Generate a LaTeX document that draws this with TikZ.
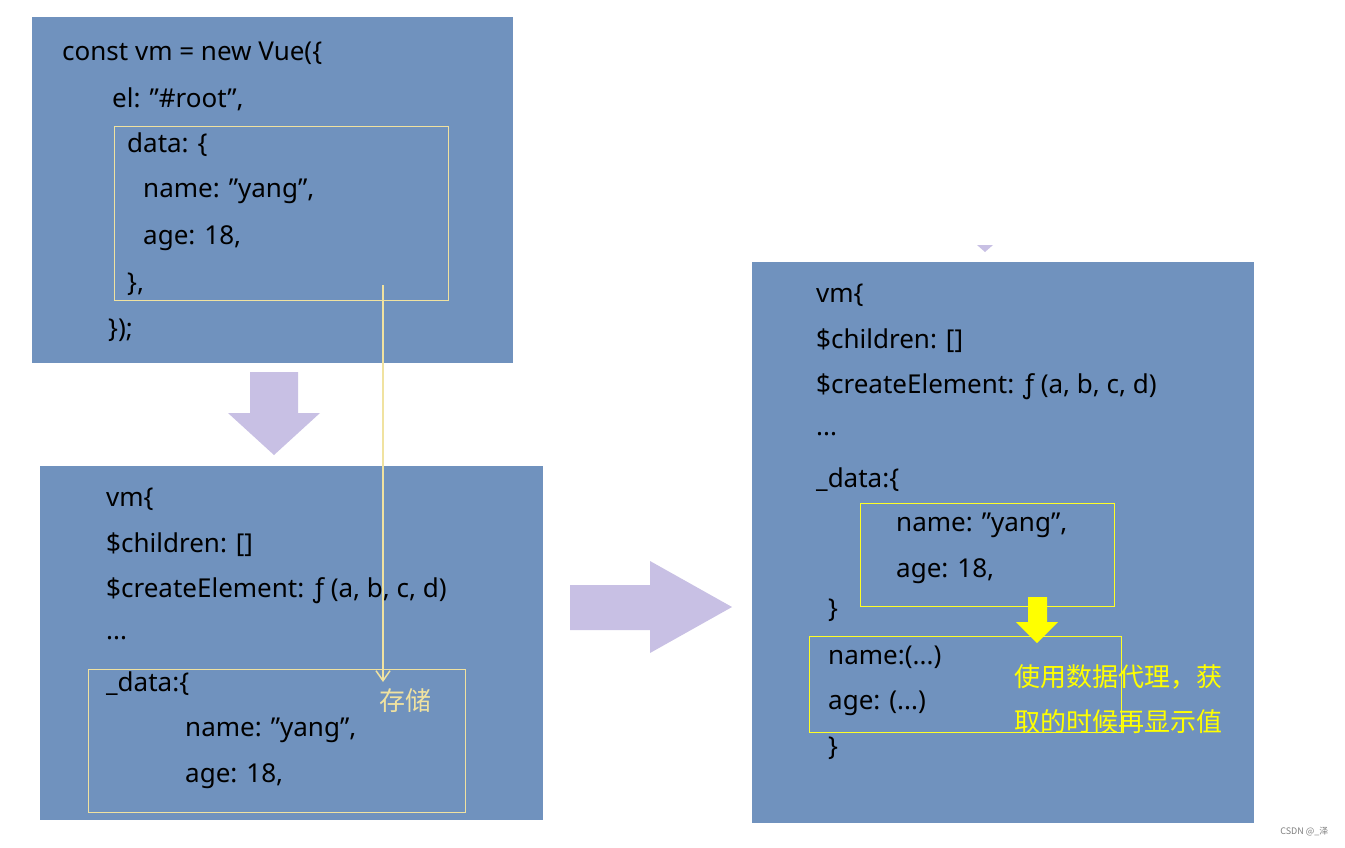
\documentclass[tikz,border=0pt]{standalone}
\usepackage{fontspec}
\setmainfont{Noto Sans}
\newfontfamily\cjk{Noto Sans CJK SC}
\usetikzlibrary{arrows.meta,positioning}
\definecolor{vueblue}{RGB}{112,146,190}
\definecolor{paleyellow}{RGB}{240,226,160}
\definecolor{brightyellow}{RGB}{255,255,0}
\definecolor{lavender}{RGB}{200,192,228}
\begin{document}
\begin{tikzpicture}[
    x=1pt, y=-1pt,
    code/.style={anchor=west, inner sep=0pt, font=\fontsize{26}{30}\selectfont},
    panel/.style={fill=vueblue, draw=none},
    frame/.style={draw=paleyellow, line width=1pt},
    hotframe/.style={draw=brightyellow!85!white, line width=1pt}
]
\useasboundingbox[fill=white] (0,0) rectangle (1345,847);

% Panels
\fill[panel] (32,17) rectangle (513,363);
\fill[panel] (40,466) rectangle (543,820);
\fill[panel] (752,262) rectangle (1254,823);

% Source code
\node[code] (l1) at (62,53) {const vm = new Vue(\{};
\node[code] (l2) at (112,99) {el: "\#root",};
\node[code] (l3) at (127,145) {data: \{};
\node[code] (l4) at (143,191) {name: "yang",};
\node[code] (l5) at (143,238) {age: 18,};
\node[code] (l6) at (127,284) {\},};
\node[code] (l7) at (108,330) {\});};
\draw[frame] (114,126) rectangle (448,300);

% vm instance
\node[code] (m1) at (106,499) {vm\{};
\node[code] (m2) at (106,545) {\$children: []};
\node[code] (m3) at (106,591) {\$createElement: ƒ (a, b, c, d)};
\node[code] (m4) at (106,638) {...};
\node[code] (m5) at (106,684) {\_data:\{};
\node[code] (m6) at (185,730) {name: "yang",};
\node[code] (m7) at (185,776) {age: 18,};
\draw[frame] (88,669) rectangle (465,812);

% vm with proxy
\node[code] (r1) at (816,295) {vm\{};
\node[code] (r2) at (816,341) {\$children: []};
\node[code] (r3) at (816,387) {\$createElement: ƒ (a, b, c, d)};
\node[code] (r4) at (816,434) {...};
\node[code] (r5) at (816,480) {\_data:\{};
\node[code] (r6) at (896,525) {name: "yang",};
\node[code] (r7) at (896,571) {age: 18,};
\node[code] (r8) at (828,610) {\}};
\node[code] (r9) at (828,657) {name:(...)};
\node[code] (r10) at (828,703) {age: (...)};
\node[code] (r11) at (828,748) {\}};
\draw[hotframe] (860,503) rectangle (1114,606);
\draw[hotframe] (809,636) rectangle (1121,732);

% Store link
\coordinate (from) at (383,285);
\coordinate (to) at (383,682);
\draw[paleyellow, line width=1.5pt, -{Straight Barb[length=10pt,width=14pt]}] (from) -- (to);
\node[code, text=paleyellow, font=\cjk\fontsize{26}{30}\selectfont] (store) at (379,701) {存储};

% Big arrows
\fill[lavender] (250,372) -- (298,372) -- (298,413) -- (320,413) -- (274,455) -- (228,413) -- (250,413) -- cycle;
\fill[lavender] (570,585) -- (650,585) -- (650,561) -- (732,607) -- (650,653) -- (650,630) -- (570,630) -- cycle;
\fill[lavender] (977,245) -- (993,245) -- (985,252) -- cycle;
\fill[brightyellow] (1028,597) -- (1047,597) -- (1047,622) -- (1058,622) -- (1037,643) -- (1016,622) -- (1028,622) -- cycle;

% Note
\node[code, text=brightyellow, align=left, font=\cjk\fontsize{26}{45}\selectfont] (note) at (1014,699) {使用数据代理，获\\取的时候再显示值};
\node[anchor=east, text=gray, font=\cjk\fontsize{9}{10}\selectfont] (mark) at (1332,832) {CSDN @\_泽};
\end{tikzpicture}
\end{document}
